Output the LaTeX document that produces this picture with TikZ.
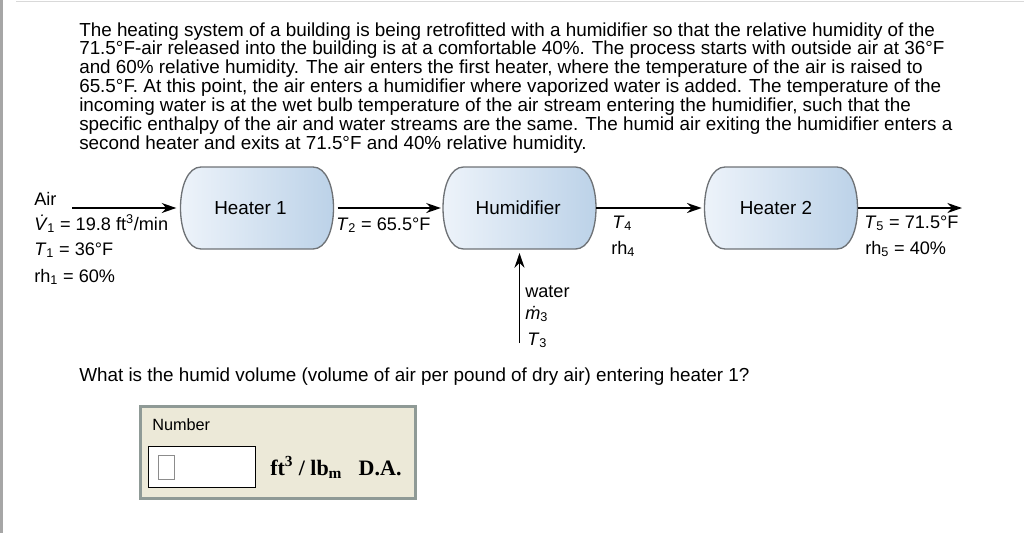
\documentclass[tikz,border=0pt]{standalone}
\usepackage{fontspec}
\setmainfont{Liberation Sans}
\newfontfamily\unitfont{Liberation Serif}
\usetikzlibrary{arrows.meta}
\definecolor{tankleft}{HTML}{EDF3FA}
\definecolor{tankright}{HTML}{BCD2E8}
\definecolor{tankedge}{HTML}{6E7276}
\definecolor{panelfill}{HTML}{ECE9D8}
\definecolor{paneledge}{HTML}{8F9A96}
\tikzset{
    para/.style={anchor=base west, inner sep=0, font=\fontsize{14.15}{16}\selectfont},
    lab/.style={anchor=base west, inner sep=0, font=\fontsize{13.6}{16}\selectfont},
    tank/.style={minimum width=115pt, minimum height=61.5pt, inner sep=0, outer sep=0, font=\fontsize{14.15}{16}\selectfont},
    tankbody/.style={draw=tankedge, line width=1pt, left color=tankleft, right color=tankright},
    flow/.style={-{Stealth[length=11pt,width=7.5pt]}, line width=1.4pt, black}
}
\newcommand{\tankshape}[1]{
    \draw[tankbody, shift={(#1)}] (-76.5, 0) .. controls (-76.5, -22) and (-69, -41) .. (-56, -41) -- (56, -41)
        .. controls (69, -41) and (76.5, -22) .. (76.5, 0) .. controls (76.5, 22) and (69, 41) .. (56, 41)
        -- (-56, 41) .. controls (-69, 41) and (-76.5, 22) .. (-76.5, 0) -- cycle;
}
\begin{document}
\begin{tikzpicture}[x=0.75pt, y=-0.75pt]
    \useasboundingbox (0, 0) rectangle (1024, 533);

    % page edges
    \fill[black!35] (0, 0) rectangle (3, 533);
    \draw[black!15, line width=1pt] (16, 1.5) -- (1024, 1.5);

    % problem text
    \node[para] (line1) at (79, 36) {The heating system of a building is being retrofitted with a humidifier so that the relative humidity of the};
    \node[para] (line2) at (79, 54) {71.5°F-air released into the building is at a comfortable 40\%. The process starts with outside air at 36°F};
    \node[para] (line3) at (79, 73) {and 60\% relative humidity. The air enters the first heater, where the temperature of the air is raised to};
    \node[para] (line4) at (79, 92) {65.5°F. At this point, the air enters a humidifier where vaporized water is added. The temperature of the};
    \node[para] (line5) at (79, 111) {incoming water is at the wet bulb temperature of the air stream entering the humidifier, such that the};
    \node[para] (line6) at (79, 130) {specific enthalpy of the air and water streams are the same. The humid air exiting the humidifier enters a};
    \node[para] (line7) at (79, 149) {second heater and exits at 71.5°F and 40\% relative humidity.};

    % units
    \tankshape{257, 208}
    \tankshape{519.5, 208}
    \tankshape{781, 208}
    \node[tank] (heaterA) at (257, 208) {Heater 1\hspace{9.75pt}\mbox{}};
    \node[tank] (humid) at (519.5, 208) {Humidifier\hspace{2pt}\mbox{}};
    \node[tank] (heaterB) at (781, 208) {Heater 2\hspace{7.5pt}\mbox{}};

    % free ends
    \coordinate (airin) at (72, 208);
    \coordinate (airout) at (962, 208);
    \coordinate (waterin) at (519.5, 343);

    % streams
    \draw[flow, shorten >=3pt] (airin) -- (heaterA);
    \draw[flow, shorten <=3pt, shorten >=1.5pt] (heaterA) -- (humid);
    \draw[flow, shorten >=2pt] (humid) -- (heaterB);
    \draw[flow] (heaterB) -- (airout);
    \draw[flow, shorten >=3pt] (waterin) -- (humid);

    % stream labels
    \node[lab] (airA) at (34, 205) {Air};
    \node[lab] (airB) at (34, 230) {\textit{\.V}\textsubscript{1} = 19.8 ft\textsuperscript{3}/min};
    \node[lab] (airC) at (34, 255) {\textit{T}\textsubscript{1} = 36°F};
    \node[lab] (airD) at (34, 282) {rh\textsubscript{1} = 60\%};
    \node[lab] (tempB) at (336, 230) {\textit{T}\textsubscript{2} = 65.5°F};
    \node[lab] (tempD) at (612, 228) {\textit{T}\textsubscript{4}};
    \node[lab] (humD) at (611, 254) {rh\textsubscript{4}};
    \node[lab] (tempE) at (864, 228) {\textit{T}\textsubscript{5} = 71.5°F};
    \node[lab] (humE) at (865, 254) {rh\textsubscript{5} = 40\%};
    \node[lab] (waterA) at (525, 297) {water};
    \node[lab] (waterB) at (525, 319) {\textit{\.m}\textsubscript{3}};
    \node[lab] (waterC) at (527, 345) {\textit{T}\textsubscript{3}};

    % question
    \node[para] (question) at (79, 381) {What is the humid volume (volume of air per pound of dry air) entering heater 1?};

    % answer panel
    \draw[draw=paneledge, fill=panelfill, line width=2.4pt] (140.5, 406.5) rectangle (415.5, 498.5);
    \draw[fill=white, line width=0.7pt] (148.5, 446.5) rectangle (255, 487);
    \draw[fill=white, draw=black!45, line width=0.5pt] (158, 455) rectangle (174, 479);
    \node[anchor=base west, inner sep=0, font=\fontsize{12.2}{15}\selectfont] (numlabel) at (152, 430) {Number};
    \node[anchor=base west, inner sep=0, font=\unitfont\bfseries\fontsize{16.5}{18}\selectfont] (unitlabel) at (270, 475) {ft\textsuperscript{3} / lb\textsubscript{m}\hspace{0.75em}D.A.};
\end{tikzpicture}
\end{document}
